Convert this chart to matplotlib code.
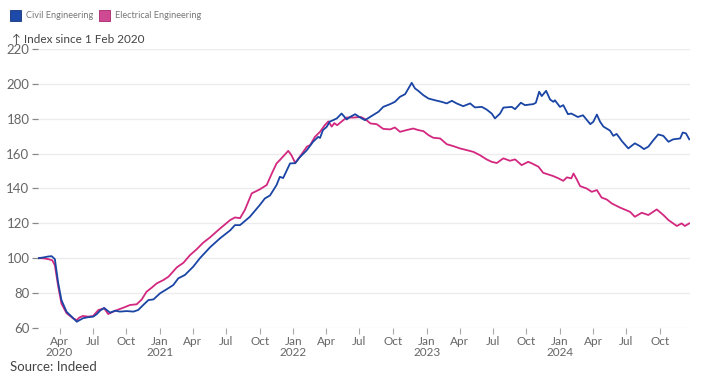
import matplotlib
matplotlib.use("Agg")
import matplotlib.pyplot as plt
from matplotlib.patches import Rectangle
import pandas as pd

# Indeed job postings index (1 Feb 2020 = 100)
CIVIL_DATES = [
    "2020-02-01", "2020-02-15", "2020-03-01", "2020-03-10", "2020-03-19", "2020-03-28",
    "2020-04-06", "2020-04-20", "2020-05-08", "2020-05-18", "2020-06-04", "2020-06-18",
    "2020-07-02", "2020-07-12", "2020-07-21", "2020-08-01", "2020-08-08", "2020-08-17",
    "2020-08-31", "2020-09-13", "2020-10-02", "2020-10-20", "2020-11-02", "2020-11-16",
    "2020-11-30", "2020-12-14", "2021-01-01", "2021-01-19", "2021-02-06", "2021-02-20",
    "2021-03-10", "2021-04-02", "2021-04-20", "2021-05-18", "2021-06-14", "2021-07-12",
    "2021-07-25", "2021-08-08", "2021-09-04", "2021-10-01", "2021-10-15", "2021-10-29",
    "2021-11-16", "2021-11-25", "2021-12-04", "2021-12-23", "2022-01-06", "2022-01-19",
    "2022-02-07", "2022-02-24", "2022-03-10", "2022-03-15", "2022-03-23", "2022-04-02",
    "2022-04-11", "2022-04-20", "2022-04-30", "2022-05-13", "2022-05-27", "2022-06-05",
    "2022-06-19", "2022-07-03", "2022-07-16", "2022-07-30", "2022-08-22", "2022-09-04",
    "2022-09-23", "2022-10-06", "2022-10-20", "2022-11-03", "2022-11-12", "2022-11-21",
    "2022-11-30", "2022-12-09", "2022-12-23", "2023-01-06", "2023-01-24", "2023-02-11",
    "2023-02-25", "2023-03-11", "2023-03-24", "2023-04-11", "2023-04-30", "2023-05-13",
    "2023-06-01", "2023-06-14", "2023-06-28", "2023-07-07", "2023-07-21", "2023-07-30",
    "2023-08-22", "2023-08-31", "2023-09-16", "2023-09-27", "2023-10-20", "2023-10-27",
    "2023-11-05", "2023-11-12", "2023-11-24", "2023-12-05", "2023-12-14", "2023-12-18",
    "2024-01-01", "2024-01-10", "2024-01-23", "2024-02-01", "2024-02-19", "2024-03-04",
    "2024-03-24", "2024-04-01", "2024-04-11", "2024-04-20", "2024-04-29", "2024-05-17",
    "2024-05-26", "2024-06-04", "2024-06-11", "2024-06-18", "2024-07-06", "2024-07-24",
    "2024-08-07", "2024-08-18", "2024-08-30", "2024-09-13", "2024-09-26", "2024-10-10",
    "2024-10-24", "2024-11-06", "2024-11-25", "2024-12-02", "2024-12-11", "2024-12-20",
]
CIVIL = [
    100, 100.4, 101, 101.2, 99.5, 86,
    76, 69.3, 65.7, 63.6, 65.6, 66.2,
    66.5, 68, 70, 71.5, 70.3, 68.8,
    69.9, 69.4, 69.7, 69.4, 70.3, 73.2,
    76, 76.4, 79.9, 82.2, 84.6, 88.5,
    90.4, 95.2, 100, 106.3, 111.4, 116,
    119, 119, 123.8, 130.5, 134.3, 136,
    142, 146.7, 146, 154.4, 154.5, 158,
    162, 166.8, 169.6, 169, 173.5, 175.3,
    178.4, 179.2, 180.2, 183, 179.6, 181,
    182.6, 180.7, 179.2, 181, 184, 186.8,
    188.4, 189.7, 192.6, 194.1, 197.4, 200.6,
    197.4, 196, 193.5, 191.6, 190.6, 189.7,
    188.8, 190.3, 188.8, 187.2, 188.8, 186.5,
    186.8, 185.3, 183, 180.2, 183, 186.4,
    186.8, 185.5, 189.2, 187.8, 188.4, 189.2,
    195.5, 193, 196, 191, 189.7, 190.6,
    186.8, 187.8, 182.6, 183, 181, 182,
    176.9, 178.2, 182.4, 178.2, 175.5, 173.2,
    170.2, 171.3, 169.4, 167.3, 163, 165.9,
    164.3, 162.6, 164, 167.8, 171, 170.2,
    166.8, 168.2, 168.7, 172.1, 171.6, 168.2,
]

ELEC_DATES = [
    "2020-02-01", "2020-02-15", "2020-03-01", "2020-03-12", "2020-03-19", "2020-03-28",
    "2020-04-06", "2020-04-20", "2020-05-08", "2020-05-18", "2020-05-25", "2020-06-04",
    "2020-06-18", "2020-07-02", "2020-07-16", "2020-08-01", "2020-08-12", "2020-08-31",
    "2020-09-22", "2020-10-11", "2020-10-29", "2020-11-12", "2020-11-25", "2020-12-09",
    "2020-12-23", "2021-01-10", "2021-01-24", "2021-02-02", "2021-02-16", "2021-03-06",
    "2021-03-24", "2021-04-11", "2021-04-29", "2021-05-18", "2021-06-14", "2021-07-12",
    "2021-07-25", "2021-08-08", "2021-08-21", "2021-09-09", "2021-10-01", "2021-10-20",
    "2021-11-03", "2021-11-16", "2021-11-25", "2021-12-18", "2021-12-27", "2022-01-06",
    "2022-01-19", "2022-02-07", "2022-02-16", "2022-03-01", "2022-03-15", "2022-03-28",
    "2022-04-07", "2022-04-16", "2022-04-23", "2022-05-01", "2022-05-13", "2022-05-27",
    "2022-06-15", "2022-07-05", "2022-07-18", "2022-07-31", "2022-08-17", "2022-09-04",
    "2022-09-23", "2022-10-06", "2022-10-20", "2022-11-07", "2022-11-25", "2022-12-09",
    "2022-12-23", "2023-01-06", "2023-01-19", "2023-02-07", "2023-02-25", "2023-03-15",
    "2023-04-02", "2023-04-21", "2023-05-09", "2023-05-27", "2023-06-14", "2023-06-28",
    "2023-07-12", "2023-07-30", "2023-08-17", "2023-08-31", "2023-09-18", "2023-10-06",
    "2023-10-16", "2023-11-03", "2023-11-16", "2023-12-14", "2023-12-28", "2024-01-10",
    "2024-01-20", "2024-02-01", "2024-02-07", "2024-02-16", "2024-02-25", "2024-03-14",
    "2024-03-28", "2024-04-11", "2024-04-24", "2024-05-08", "2024-05-22", "2024-06-13",
    "2024-07-11", "2024-07-24", "2024-08-12", "2024-08-30", "2024-09-22", "2024-10-10",
    "2024-10-24", "2024-11-16", "2024-11-29", "2024-12-08", "2024-12-20",
]
ELEC = [
    100, 100, 99.5, 98.8, 96, 84,
    74, 68.5, 65.5, 64.5, 66, 66.9,
    66.5, 66.9, 70.3, 71.3, 68, 69.9,
    71.6, 73.2, 73.6, 76.4, 80.8, 83.1,
    85.6, 87.5, 89.4, 91.5, 94.8, 97.4,
    101.8, 105.1, 108.9, 112, 117, 121.9,
    123.4, 123, 127.6, 137.2, 139.5, 142,
    148.6, 154.4, 156.3, 161.6, 159, 154.7,
    158.3, 164, 164.9, 169.6, 172.5, 176.3,
    178.5, 175.5, 177.5, 176.3, 178.4, 180.7,
    180.7, 181, 179.6, 177.3, 176.9, 174.2,
    173.9, 175, 172.5, 173.5, 174.4, 173.5,
    172.9, 170.6, 169.1, 168.7, 165.4, 164.3,
    163, 162, 161, 159.1, 156.7, 155.3,
    154.6, 157.3, 155.9, 156.7, 153.4, 155.3,
    154.4, 152.5, 149, 147.1, 145.8, 144.4,
    146.4, 145.8, 148.6, 145.2, 141.4, 140,
    138.1, 139.1, 134.8, 133.7, 131.4, 129.1,
    126.6, 123.8, 126.1, 124.8, 128, 124.8,
    121.9, 118.5, 120, 118.5, 120,
]

YTICKS = [60, 80, 100, 120, 140, 160, 180, 200, 220]
XTICKS = pd.date_range("2020-04-01", "2024-10-01", freq="QS-JAN")

BLUE = "#1a45a5"
PINK = "#d3287f"
TXT = "#666666"

plt.rcParams["font.family"] = ["Lato", "DejaVu Sans"]

fig = plt.figure(figsize=(7.2, 3.83), dpi=100)
ax = fig.add_axes([37.7 / 720, 1 - 328 / 383, (690 - 37.7) / 720, (328 - 49) / 383])

ax.plot(pd.to_datetime(CIVIL_DATES), CIVIL, color=BLUE, lw=1.3, zorder=3)
ax.plot(pd.to_datetime(ELEC_DATES), ELEC, color=PINK, lw=1.3, zorder=2)

ax.set_xlim(pd.Timestamp("2020-02-01"), pd.Timestamp("2024-12-22"))
ax.set_ylim(60, 220)

ax.set_yticks(YTICKS)
ax.set_yticklabels([str(v) for v in YTICKS])
ax.grid(axis="y", color="#ececec", lw=1.0)
ax.set_axisbelow(True)

labels = []
for d in XTICKS:
    m = d.strftime("%b")
    if d.month == 1 or d == XTICKS[0]:
        labels.append(f"{m}\n{d.year}")
    else:
        labels.append(m)
ax.set_xticks(XTICKS)
ax.set_xticklabels(labels, linespacing=0.95)

ax.tick_params(axis="y", length=4.5, width=0.9, color="#888888", pad=1.5,
               labelsize=9.5, labelcolor=TXT)
ax.tick_params(axis="x", length=4, width=0.8, color="#aaaaaa", pad=2,
               labelsize=8.5, labelcolor=TXT)
for s in ax.spines.values():
    s.set_visible(False)

# legend drawn as squares + text at the top left
fig.patches.append(Rectangle((10 / 720, 1 - 21 / 383), 11 / 720, 11 / 383,
                             transform=fig.transFigure, facecolor="#1d4aa8",
                             edgecolor="#15357a", lw=0.6))
fig.text(26 / 720, 1 - 16 / 383, "Civil Engineering", fontsize=6.6, color="#777777",
         va="center", ha="left")
fig.patches.append(Rectangle((99 / 720, 1 - 21 / 383), 11 / 720, 11 / 383,
                             transform=fig.transFigure, facecolor="#cf4a93",
                             edgecolor="#a8246b", lw=0.6))
fig.text(115 / 720, 1 - 16 / 383, "Electrical Engineering", fontsize=6.6, color="#777777",
         va="center", ha="left")

fig.text(12 / 720, 1 - 39 / 383, "↑ Index since 1 Feb 2020", fontsize=8.5, color="#444444",
         va="center", ha="left", family=["Lato", "DejaVu Sans"])
fig.text(10 / 720, 1 - 367 / 383, "Source: Indeed", fontsize=9.5, color="#444444",
         va="center", ha="left")

fig.savefig("out.png", dpi=100)
